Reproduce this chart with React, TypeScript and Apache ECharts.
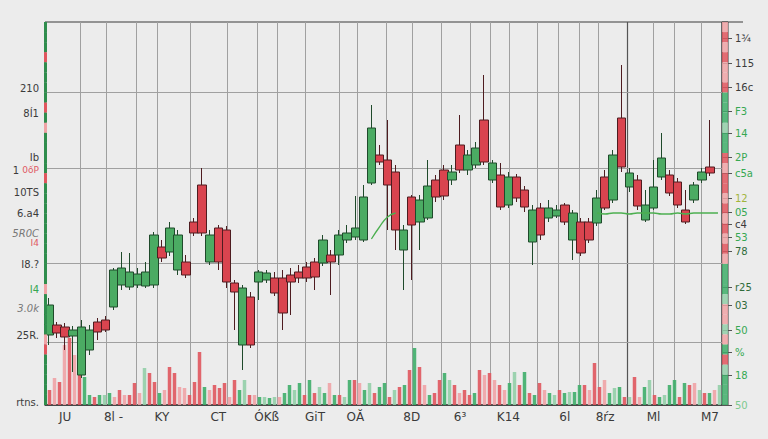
import React, { useEffect, useRef } from "react";
import * as echarts from "echarts";

// ---- data ----
const categories = [
  "D1","D2","D3","D4","D5","D6","D7","D8","D9","D10","D11","D12","D13","D14","D15","D16","D17","D18","D19","D20",
  "D21","D22","D23","D24","D25","D26","D27","D28","D29","D30","D31","D32","D33","D34","D35","D36","D37","D38","D39","D40",
  "D41","D42","D43","D44","D45","D46","D47","D48","D49","D50","D51","D52","D53","D54","D55","D56","D57","D58","D59","D60",
  "D61","D62","D63","D64","D65","D66","D67","D68","D69","D70","D71","D72","D73","D74","D75","D76","D77","D78","D79","D80",
  "D81","D82","D83","D84",
];

const xLabelIndex = [2, 8, 14, 21, 27, 33, 38, 45, 51, 57, 64, 69, 75, 82];
const xLabelText = ["JU", "8l -", "KY", "CT", "ÓKß", "GiT", "OĂ", "8D", "6³", "K14", "6l", "8ŕz", "Ml", "M7"];

// [open, close, low, high]
const candles: any[] = [
  [70,100,60,107],[80,72,67,83],[78,68,55,82],[69,75,33,79],[30,78,27,85],
  [55,75,50,80],[83,73,65,87],[85,75,73,89],[98,135,95,137],[120,137,115,153],
  [118,133,115,152],[120,131,117,137],[119,133,117,143],[120,170,117,173],[158,147,143,165],
  [153,177,149,183],[135,170,130,175],[143,130,127,150],[183,172,169,187],[220,172,169,237],
  [143,170,140,175],[177,143,135,180],[175,123,117,179],[122,113,75,125],[60,117,35,120],
  [108,60,57,113],[123,133,105,135],[125,132,122,135],[127,112,109,133],[127,92,75,135],
  [130,123,90,137],[133,127,122,140],[138,127,123,143],[143,128,115,147],[142,165,139,170],
  [150,143,110,155],[150,170,140,175],[165,172,162,180],[168,177,165,209],[165,208,163,220],
  [222,277,220,300],[250,243,240,260],[245,220,175,285],[233,175,155,240],[155,175,115,180],
  [208,180,125,210],[183,205,155,210],[187,219,185,245],[225,208,203,230],[235,209,205,240],
  [225,233,220,240],[260,235,232,290],[235,250,230,255],[240,257,237,263],[285,243,240,330],
  [225,242,222,245],[230,198,195,242],[200,228,197,233],[228,207,203,231],[215,198,193,219],
  [163,195,140,200],[197,170,165,202],[187,197,183,205],[189,195,187,200],[200,183,180,202],
  [165,192,145,195],[183,152,149,187],[183,165,162,187],[182,207,179,215],[228,197,195,235],
  [205,250,202,255],[287,238,233,340],[218,232,213,237],[225,199,195,230],[185,200,183,215],
  [197,218,195,245],[228,247,225,272],[230,212,209,235],[223,200,197,227],[195,183,181,215],
  [205,220,202,223],[225,233,222,237],[238,232,229,285],"-",
];

const maValues: (number | null)[] = [
  null,null,null,null,null,null,null,null,null,null,null,null,null,null,null,null,null,null,null,null,
  null,null,null,null,null,null,null,null,null,null,null,null,null,null,null,null,null,null,null,null,
  166,178,188,192,null,null,null,null,null,null,null,null,null,null,null,null,null,null,null,null,
  null,null,null,null,null,null,null,null,192,191,192,192,191,192,192,192,191,191,192,191,
  192,192,192,192,
];

const volumeValues = [
  15,27,23,60,67,50,62,28,10,8, 10,10,12,8,15,10,10,22,12,37,
  32,23,12,15,38,32,18,17,10,23, 53,18,15,20,17,22,8,25,15,25,
  10,10,8,8,7,8,8,12,20,15, 22,10,25,12,18,12,22,10,10,8,
  25,25,22,15,22,12,18,22,8,15, 18,20,35,57,38,20,10,12,25,32,
  25,20,12,15,10,12,35,30,32,25, 20,15,22,33,20,33,12,10,22,15,
  12,10,15,12,13,13,20,20,15,42, 18,25,12,17,18,8,8,28,8,18,
  25,10,8,10,20,25,8,22,20,22, 15,12,12,15,20,
];
const volumeTones = (
  "rprprprggr" + "glgprprrpl" + "rrgprrpprr" + "rgprrrprgl" + "rpglglpggl" +
  "grgrlgpgrl" + "grpglrggrl" + "rgrgrpgrrg" + "lrprrgrprp" + "rpglrgrgrp" +
  "glrglggrpr" + "rpglgrlrpg" + "lrglggrgrp" + "lrgpl"
).split("");

const leftValues = [317, 292, 248, 235, 213, 192, 172, 162, 141, 116, 97, 70, 3];
const leftTexts = ["210", "8Í1", "Ib", "1 0ốP", "10TS", "6.a4", "5R0C", "I4", "I8.?", "I4", "3.0k", "25R.", "rtns."];
const leftTones = ["d", "d", "d", "x", "d", "d", "m", "r", "d", "g", "m", "d", "d"];

const rightValues = [367, 342, 318, 294, 272, 248, 232, 207, 193, 181, 168, 154, 118, 100, 75, 53, 30, 0];
const rightTexts = ["1¾", "115", "16c", "F3", "14", "2P", "c5a", "12", "05", "c4", "53", "78", "r25", "03", "50", "%", "18", "50"];
const rightTones = ["d", "d", "d", "g", "g", "g", "g", "y", "g", "d", "g", "e", "e", "e", "g", "g", "g", "l"];

const leftStrip = "kkkrkkkkrkpkkkkrkkkkkkkkkkpkkkkprkkkkk".split("");
const rightStrip = "prprpprgggl ggrprrprprprpgggl pplpgrlggg".replace(/ /g, "").split("");

const gridX = [35, 61, 91, 112, 145, 182, 212, 232, 260, 294, 312, 341, 367, 396, 425, 445, 464, 492, 513, 534, 553, 608, 629, 656];
const gridXDark = [582];
const gridY = [313, 237, 142, 63];

const toneColor: Record<string, string> = {
  r: "#e0565e",
  p: "#f0a3a6",
  g: "#3fae6a",
  l: "#93cfa9",
  k: "#2f8d4d",
};

export default function App() {
  const ref = useRef<HTMLDivElement>(null);
  useEffect(() => {
    document.body.style.margin = "0";
    document.body.style.background = "#ececec";
    const chart = echarts.init(ref.current!, null, { renderer: "svg" });
    const font = "DejaVu Sans";
    const rich: any = {
      d: { color: "#3b3b3b", fontSize: 10, fontFamily: font },
      r: { color: "#e05a64", fontSize: 9, fontFamily: font },
      g: { color: "#36a852", fontSize: 10, fontFamily: font },
      m: { color: "#777777", fontSize: 10, fontFamily: font, fontStyle: "italic" },
      y: { color: "#a2b53c", fontSize: 10, fontFamily: font },
      e: { color: "#2f6b3a", fontSize: 10, fontFamily: font },
      l: { color: "#7cc98f", fontSize: 10, fontFamily: font },
    };
    const fmt = (values: number[], texts: string[], tones: string[]) => (v: number) => {
      const i = values.indexOf(v);
      if (i < 0) return "";
      const t = texts[i];
      if (tones[i] === "x") return `{d|${t.slice(0, 2)}}{r|${t.slice(2)}}`;
      return `{${tones[i]}|${t}}`;
    };
    const option: any = {
      animation: false,
      backgroundColor: "#ececec",
      grid: [
        { left: 45, right: 46, top: 22, bottom: 34, show: true, borderColor: "#3a3a3a", borderWidth: 1 },
        { left: 47, right: 46, top: 330, bottom: 34 },
        { left: 44, width: 3, top: 22, bottom: 34 },
        { left: 722, width: 6, top: 22, bottom: 34, show: true, borderColor: "#3a3a3a", borderWidth: 1 },
      ],
      xAxis: [
        {
          type: "category",
          gridIndex: 0,
          data: categories,
          axisLine: { show: true, lineStyle: { color: "#2f2f2f", width: 1.5 } },
          axisTick: { show: false },
          splitLine: { show: false },
          axisLabel: {
            interval: (i: number) => xLabelIndex.indexOf(i) >= 0,
            formatter: (_v: string, i: number) => {
              const k = xLabelIndex.indexOf(i);
              return k >= 0 ? xLabelText[k] : "";
            },
            color: "#3a3a3a",
            fontSize: 12,
            fontFamily: font,
            margin: 6,
          },
        },
        { type: "value", gridIndex: 0, min: 0, max: 677, show: false },
        { type: "category", gridIndex: 1, data: volumeValues.map((_, i) => "V" + i), show: false },
        { type: "value", gridIndex: 2, min: 0, max: 1, show: false },
        { type: "value", gridIndex: 3, min: 0, max: 1, show: false },
      ],
      yAxis: [
        {
          type: "value",
          gridIndex: 0,
          min: 0,
          max: 383,
          position: "left",
          axisLine: { show: false },
          axisTick: { show: false },
          splitLine: { show: false },
          axisLabel: {
            customValues: leftValues,
            formatter: fmt(leftValues, leftTexts, leftTones),
            rich,
            margin: 6,
          },
        },
        {
          type: "value",
          gridIndex: 0,
          min: 0,
          max: 383,
          position: "right",
          axisLine: { show: false },
          axisTick: { show: true, customValues: rightValues, length: 10, lineStyle: { color: "#555" } },
          splitLine: { show: false },
          axisLabel: {
            customValues: rightValues,
            formatter: fmt(rightValues, rightTexts, rightTones),
            rich,
            margin: 13,
          },
        },
        { type: "value", gridIndex: 1, min: 0, max: 75, show: false },
        { type: "category", gridIndex: 2, data: leftStrip.map((_, i) => "L" + i), inverse: true, show: false },
        { type: "category", gridIndex: 3, data: rightStrip.map((_, i) => "R" + i), inverse: true, show: false },
      ],
      series: [
        {
          type: "scatter",
          xAxisIndex: 1,
          yAxisIndex: 0,
          data: [[0, 0]],
          symbolSize: 0,
          silent: true,
          z: 1,
          markLine: {
            silent: true,
            symbol: ["none", "none"],
            label: { show: false },
            z: 1,
            lineStyle: { color: "#a0a0a0", width: 1, type: "solid" },
            data: [
              ...gridX.map((v) => ({ xAxis: v })),
              ...gridXDark.map((v) => ({ xAxis: v, lineStyle: { color: "#555", width: 1.2, type: "solid" } })),
              ...gridY.map((v) => ({ yAxis: v })),
            ],
          },
        },
        {
          type: "bar",
          xAxisIndex: 2,
          yAxisIndex: 2,
          data: volumeValues,
          barWidth: 3.5,
          z: 2,
          itemStyle: { color: (p: any) => toneColor[volumeTones[p.dataIndex]], opacity: 0.9 },
        },
        {
          type: "candlestick",
          xAxisIndex: 0,
          yAxisIndex: 0,
          data: candles,
          barWidth: 9,
          z: 3,
          itemStyle: {
            color: "#4bab63",
            color0: "#d9444f",
            borderColor: "#1f4a2b",
            borderColor0: "#4e1c20",
            borderWidth: 1,
          },
        },
        {
          type: "line",
          xAxisIndex: 0,
          yAxisIndex: 0,
          data: maValues,
          showSymbol: false,
          smooth: true,
          connectNulls: false,
          z: 4,
          lineStyle: { color: "#4caf50", width: 1.3 },
        },
        {
          type: "bar",
          xAxisIndex: 3,
          yAxisIndex: 3,
          data: leftStrip.map(() => 1),
          barWidth: "100%",
          z: 5,
          itemStyle: { color: (p: any) => toneColor[leftStrip[p.dataIndex]] },
        },
        {
          type: "bar",
          xAxisIndex: 4,
          yAxisIndex: 4,
          data: rightStrip.map(() => 1),
          barWidth: "100%",
          z: 5,
          itemStyle: { color: (p: any) => toneColor[rightStrip[p.dataIndex]], opacity: 0.85 },
        },
      ],
      graphic: [
        { type: "line", shape: { x1: 722, y1: 22, x2: 743, y2: 22 }, style: { stroke: "#3a3a3a", lineWidth: 1 } },
      ],
    };
    chart.setOption(option);
    return () => chart.dispose();
  }, []);
  return <div ref={ref} style={{ width: 768, height: 439 }} />;
}
